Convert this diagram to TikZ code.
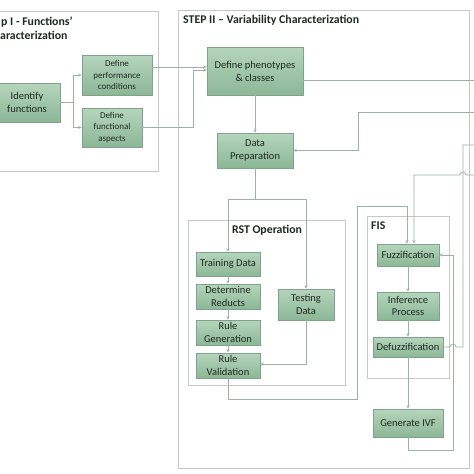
\documentclass[tikz,border=0pt]{standalone}
\usepackage{fontspec}
\setmainfont{Carlito}
\usetikzlibrary{arrows.meta}
\definecolor{boxtop}{HTML}{B5D5BC}
\definecolor{boxbot}{HTML}{8CB797}
\definecolor{boxedge}{HTML}{7DA488}
\definecolor{link}{HTML}{9AB1A3}
\definecolor{frame}{HTML}{C3CAC6}
\definecolor{txt}{HTML}{1E2A22}
\tikzset{
  blk/.style={draw=boxedge, line width=.6pt, top color=boxtop, bottom color=boxbot, align=center, inner sep=0pt, text=txt, font=\fontsize{10.5}{12.8}\selectfont},
  sml/.style={font=\fontsize{9}{11.3}\selectfont},
  frm/.style={draw=frame, line width=1pt},
  ttl/.style={font=\bfseries\fontsize{11.8}{13}\selectfont, text=txt, inner sep=0pt},
  lnk/.style={draw=link, line width=.7pt},
}
\begin{document}
\begin{tikzpicture}[x=1pt, y=-1pt, >={Stealth[length=3.5pt,width=3pt]}]
\clip (0,0) rectangle (474,474);
\fill[white] (0,0) rectangle (474,474);

% step I
\begin{scope}
\draw[frm] (-60,11) rectangle (158,171);
\node[ttl, anchor=west] (t1a) at (1,22) {p I - Functions'};
\node[ttl, anchor=west] (t1b) at (0,35) {aracterization};
\node[blk, minimum width=66, minimum height=39] (idf) at (27,102.5) {Identify\\functions};
\node[blk, sml, minimum width=70, minimum height=40] (dpc) at (117,75) {Define\\performance\\conditions};
\node[blk, sml, minimum width=60, minimum height=39] (dfa) at (112,127.5) {Define\\functional\\aspects};
\end{scope}

% step II
\begin{scope}
\draw[frm] (178,10) rectangle (469,468);
\node[ttl, anchor=west] (t2) at (183,20) {STEP II -- Variability Characterization};
\node[blk, minimum width=96, minimum height=48] (phen) at (255,71) {Define phenotypes\\\& classes};
\node[blk, minimum width=76, minimum height=35] (prep) at (255,150.5) {Data\\Preparation};

\draw[frm] (188,220) rectangle (345,385);
\node[ttl] (t3) at (267,230) {RST Operation};
\node[blk, minimum width=64, minimum height=24] (train) at (228,264) {Training Data};
\node[blk, minimum width=64, minimum height=25] (red) at (228,296.5) {Determine\\Reducts};
\node[blk, minimum width=64, minimum height=25] (gen) at (228,332.5) {Rule\\Generation};
\node[blk, minimum width=64, minimum height=25] (val) at (228,365.5) {Rule\\Validation};
\node[blk, minimum width=56, minimum height=31] (test) at (306,304.5) {Testing\\Data};

\draw[frm] (367,216) rectangle (449,378);
\node[ttl, anchor=west] (t4) at (371,226) {FIS};
\node[blk, minimum width=62, minimum height=22] (fuz) at (408,255) {Fuzzification};
\node[blk, minimum width=62, minimum height=28] (inf) at (408,306) {Inference\\Process};
\node[blk, minimum width=70, minimum height=20] (defz) at (408,347) {Defuzzification};
\node[blk, minimum width=70, minimum height=28] (ivf) at (408,423) {Generate IVF};
\end{scope}

% ends off the right edge
\coordinate (r1) at (480,80);
\coordinate (r2) at (480,112);
\coordinate (r3) at (480,145);
\coordinate (r4) at (480,175);

\begin{scope}[lnk]
\draw[->] (idf.east) -- ++(13,0) |- (dpc.west);
\draw[->] (idf.east) -- ++(13,0) |- (dfa.west);
\draw[->] ([yshift=8pt]dpc.east) -- ([yshift=4pt]phen.west);
\draw[->] (dfa.east) -- ++(51,0) |- ([yshift=1pt]phen.west);
\draw ([yshift=-9pt]phen.east) -- (r1);
\draw[->] (phen) -- (prep);
\draw[->] (r2) -- ++(-122,0) |- (prep.east);
\draw[->] (prep.south) -- ++(0,31) -| (train.north);
\draw[->] (prep.south) -- ++(0,31) -| (test.north);
\draw[->] (train) -- (red);
\draw[->] (red) -- (gen);
\draw[->] (gen) -- (val);
\draw[->] (test.south) |- ([yshift=1.5pt]val.east);
\draw[->] (val.south) -- ++(0,21) -- ++(129,0) -- ++(0,-193) -| ([xshift=-1pt]fuz.north);
\draw[->] (r4) -- (466,175) arc[start angle=0, end angle=180, radius=3pt] -| ([xshift=6pt]fuz.north);
\draw[->] (fuz) -- (inf);
\draw[->] (inf) -- (defz);
\draw[->] (defz) -- (ivf);
\draw (defz.east) -- (450,347) arc[start angle=180, end angle=0, radius=3pt] -- (463,347) |- (r3);
\draw[->] (ivf.south) -- ++(0,13) -- ++(45,0) |- (fuz.east);
\end{scope}
\end{tikzpicture}
\end{document}
